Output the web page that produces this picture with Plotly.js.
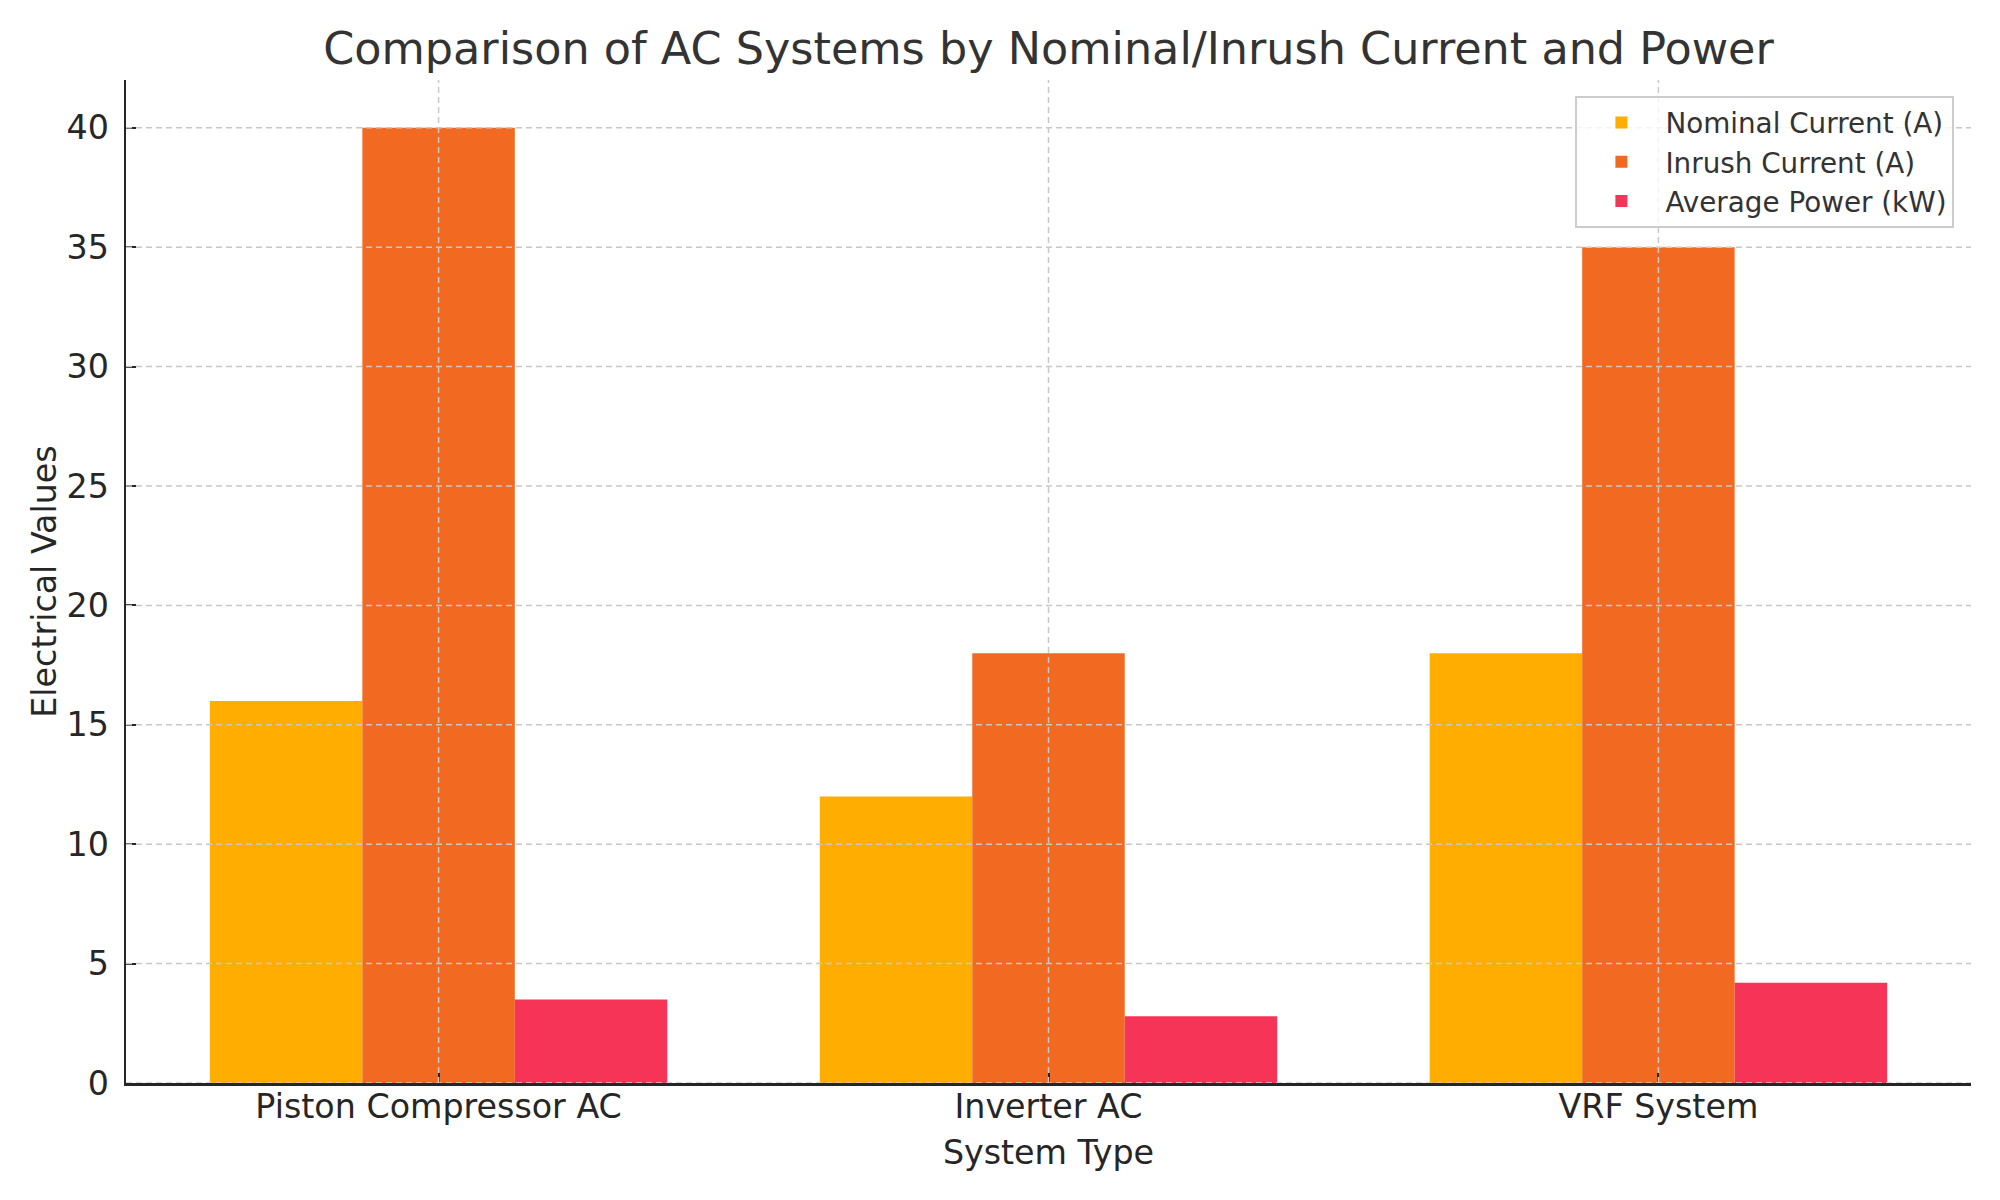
<!DOCTYPE html>
<html>
<head>
<meta charset="utf-8">
<script src="https://cdn.plot.ly/plotly-3.0.1.min.js"></script>
<style>html,body{margin:0;padding:0;background:#fff;}#chart{width:2000px;height:1200px;}</style>
</head>
<body>
<div id="chart"></div>
<script>
const categories = ["Piston Compressor AC", "Inverter AC", "VRF System"];
const nominalCurrent = [16, 12, 18];
const inrushCurrent = [40, 18, 35];
const averagePower = [3.5, 2.8, 4.2];
const seriesNames = ["Nominal Current (A)", "Inrush Current (A)", "Average Power (kW)"];
const seriesColors = ["#FFAE00", "#F26A22", "#F53457"];
const yTicks = [0, 5, 10, 15, 20, 25, 30, 35, 40];

const seriesValues = [nominalCurrent, inrushCurrent, averagePower];
const traces = seriesValues.map((vals, i) => ({
  type: "bar",
  x: categories,
  y: vals,
  name: seriesNames[i],
  marker: {color: seriesColors[i], line: {width: 0}},
  hoverinfo: "x+y+name"
}));

const gridStyle = {color: "#c8c8c8", width: 1.5, dash: "6px,4px"};
const shapes = [];
yTicks.forEach(t => shapes.push({type: "line", layer: "above", xref: "paper", yref: "y",
  x0: 0, x1: 1, y0: t, y1: t, line: gridStyle}));
categories.forEach(c => shapes.push({type: "line", layer: "above", xref: "x", yref: "paper",
  x0: c, x1: c, y0: 0, y1: 1, line: gridStyle}));

const font = "DejaVu Sans, sans-serif";
const layout = {
  width: 2000, height: 1200,
  margin: {l: 126, r: 29, t: 80, b: 117},
  paper_bgcolor: "#fff", plot_bgcolor: "#fff",
  font: {family: font, color: "#262626"},
  title: {text: "Comparison of AC Systems by Nominal/Inrush Current and Power",
    font: {family: font, size: 44.5, color: "#333333"},
    x: 0.5, xref: "paper", xanchor: "center", y: 1 - 48/1200, yref: "container", yanchor: "middle"},
  barmode: "group", bargap: 0.25, bargroupgap: 0,
  xaxis: {
    type: "category", range: [-0.5125, 2.5125],
    showgrid: false, zeroline: false,
    showline: true, linecolor: "#262626", linewidth: 2.5,
    ticks: "inside", ticklen: 10, tickwidth: 2, tickcolor: "#262626",
    tickfont: {family: font, size: 33.3, color: "#262626"},
    ticklabelstandoff: -7,
    title: {text: "System Type", font: {family: font, size: 33.3, color: "#262626"}, standoff: 15}
  },
  yaxis: {
    range: [0, 42], tickvals: yTicks,
    showgrid: false, zeroline: false,
    showline: true, linecolor: "#262626", linewidth: 2.5,
    ticks: "inside", ticklen: 10, tickwidth: 2, tickcolor: "#262626",
    tickfont: {family: font, size: 33.3, color: "#262626"},
    ticklabelstandoff: 8,
    title: {text: "Electrical Values", font: {family: font, size: 33.3, color: "#262626"}, standoff: 0}
  },
  legend: {
    x: 0.991, y: 0.984, xanchor: "right", yanchor: "top",
    bgcolor: "rgba(255,255,255,0.8)", bordercolor: "#cccccc", borderwidth: 2,
    font: {family: font, size: 27.8, color: "#333333"},
    traceorder: "normal", tracegroupgap: 0, itemwidth: 78
  },
  shapes: shapes,
  showlegend: true
};

Plotly.newPlot("chart", traces, layout, {displayModeBar: false, staticPlot: true});
</script>
</body>
</html>
